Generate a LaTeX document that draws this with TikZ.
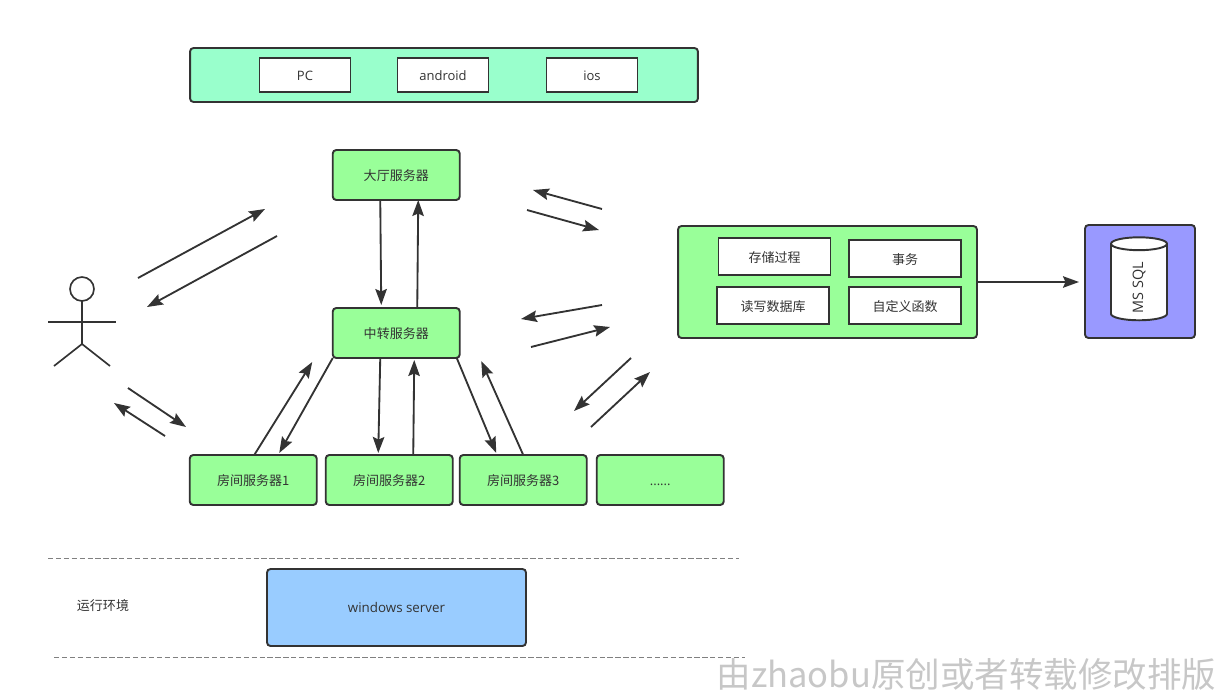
\documentclass[tikz,border=0pt]{standalone}
\usepackage{fontspec}
\setmainfont{Open Sans}
\newfontfamily\cjk{Noto Sans CJK SC}
\usetikzlibrary{arrows.meta, shapes.geometric}
\definecolor{inkdark}{HTML}{333333}
\definecolor{greenfill}{HTML}{99FF99}
\definecolor{mintfill}{HTML}{99FFCC}
\definecolor{bluefill}{HTML}{99CCFF}
\definecolor{purplefill}{HTML}{9999FF}
\tikzset{
  box/.style={draw=inkdark, line width=1.1pt, rounded corners=2pt, text=inkdark, inner sep=0pt, outer sep=0pt, text height=0.28cm, text depth=0.06cm, font=\fontsize{7.4}{9}\selectfont},
  server/.style={box, fill=greenfill, minimum width=2.54cm, minimum height=1cm},
  client/.style={box, fill=white, rounded corners=0pt, minimum width=1.82cm, minimum height=0.68cm},
  proc/.style={box, fill=white, rounded corners=0pt, minimum width=2.24cm, minimum height=0.74cm},
  flow/.style={draw=inkdark, line width=1.05pt, -{Stealth[length=0.32cm, width=0.23cm, inset=0.05cm]}},
  figure/.style={draw=inkdark, line width=0.95pt},
  sep/.style={draw=gray, line width=0.4pt, dash pattern=on 3pt off 1.5pt}
}
\begin{document}
\begin{tikzpicture}[x=0.02cm, y=-0.02cm]
\useasboundingbox (0, 0) rectangle (1225, 700);
% clients
\node [box, fill=mintfill, minimum width=10.16cm, minimum height=1.08cm] (platform) at (444, 75) {};
\node [client] (pc) at (305, 75) {PC};
\node [client] (android) at (443, 75) {android};
\node [client] (ios) at (592, 75) {ios};
% servers
\node [server] (hall) at (396.25, 175) {\cjk 大厅服务器};
\node [server] (relay) at (396.25, 333) {\cjk 中转服务器};
\foreach \name/\x/\txt in {room1/253.25/房间服务器1, room2/389.25/房间服务器2, room3/523.25/房间服务器3}
  \node [server] (\name) at (\x, 480) {\cjk \txt};
\node [server] (room4) at (660.25, 480) {......};
% database side
\node [box, fill=greenfill, minimum width=5.98cm, minimum height=2.24cm] (logic) at (827.5, 282) {};
\node [proc] (proc1) at (774.5, 256.5) {\cjk 存储过程};
\node [proc] (proc2) at (905, 258.5) {\cjk 事务};
\node [proc] (proc3) at (773, 305.5) {\cjk 读写数据库};
\node [proc] (proc4) at (905, 305.5) {\cjk 自定义函数};
\node [box, fill=purplefill, minimum width=2.2cm, minimum height=2.26cm] (dbhost) at (1140, 281.5) {};
\node [cylinder, draw=inkdark, line width=1.1pt, fill=white, text=inkdark, rotate=90, aspect=1, inner sep=0pt, outer sep=0pt, minimum height=1.66cm, minimum width=1.12cm, font=\fontsize{8.2}{10}\selectfont] (mssql) at (1139, 282.5) {MS SQL\hspace*{0.2cm}};
\draw [flow, shorten >=0.12cm] (logic.east) -- (logic.east -| dbhost.west);
% runtime
\node [box, fill=bluefill, minimum width=5.18cm, minimum height=1.54cm, text depth=0.08cm, font=\fontsize{7.6}{9}\selectfont] (winserver) at (396.5, 607.5) {windows server};
\node [text=inkdark, font=\fontsize{7.4}{9}\selectfont] (runenv) at (103, 605.5) {\cjk 运行环境};
\coordinate (sepa1) at (48, 558);
\coordinate (sepa2) at (739, 558);
\coordinate (sepb1) at (54, 657);
\coordinate (sepb2) at (745, 657);
\draw [sep] (sepa1) -- (sepa2);
\draw [sep] (sepb1) -- (sepb2);
% person
\node [circle, figure, fill=white, minimum size=0.48cm, inner sep=0pt, outer sep=0pt] (head) at (82, 289) {};
\coordinate (hip) at (82, 344);
\coordinate (armL) at (48, 322);
\coordinate (armR) at (116, 322);
\coordinate (legL) at (54, 366);
\coordinate (legR) at (110, 366);
\draw [figure] (head) -- (hip);
\draw [figure] (armL) -- (armR);
\draw [figure] (legL) -- (hip) -- (legR);
% arrows between servers
\draw [flow] ([xshift=-0.32cm]hall.south) -- ([xshift=-0.3cm, yshift=0.06cm]relay.north);
\draw [flow] ([xshift=0.42cm]relay.north) -- ([xshift=0.44cm]hall.south);
\draw [flow] ([xshift=0.02cm]room1.north) -- ++(58, -93);
\draw [flow] (relay.south west) -- ([xshift=0.52cm, yshift=0.04cm]room1.north);
\draw [flow] ([xshift=-0.32cm]relay.south) -- ([xshift=-0.22cm, yshift=0.04cm]room2.north);
\draw [flow] ([xshift=0.48cm]room2.north) -- ([xshift=0.36cm, yshift=-0.04cm]relay.south);
\draw [flow] ([xshift=-0.06cm]relay.south east) -- ([xshift=-0.54cm, yshift=0.04cm]room3.north);
\draw [flow] (room3.north) -- ++(-42, -94);
% free arrows
\foreach \name/\ax/\ay/\bx/\by in {
  ua/138/278/265/209, ub/277/236/147/307,
  uc/128/388/186/427, ud/165/436/114/403,
  ra/602/209/533/190, rb/527/210/599/230,
  rc/602/305/521/319, rd/531/347/610/327,
  re/631/358/574/411, rf/591/427/650/372}{
  \coordinate (\name1) at (\ax, \ay);
  \coordinate (\name2) at (\bx, \by);
  \draw [flow] (\name1) -- (\name2);
}
% watermark
\node [text=white, font=\cjk\fontsize{19.65}{24}\selectfont, inner sep=0pt] (markshade) at (967, 675) {由zhaobu原创或者转载修改排版};
\node [text=black!22, font=\cjk\fontsize{19.65}{24}\selectfont, inner sep=0pt] (mark) at (966.5, 674.5) {由zhaobu原创或者转载修改排版};
\end{tikzpicture}
\end{document}
